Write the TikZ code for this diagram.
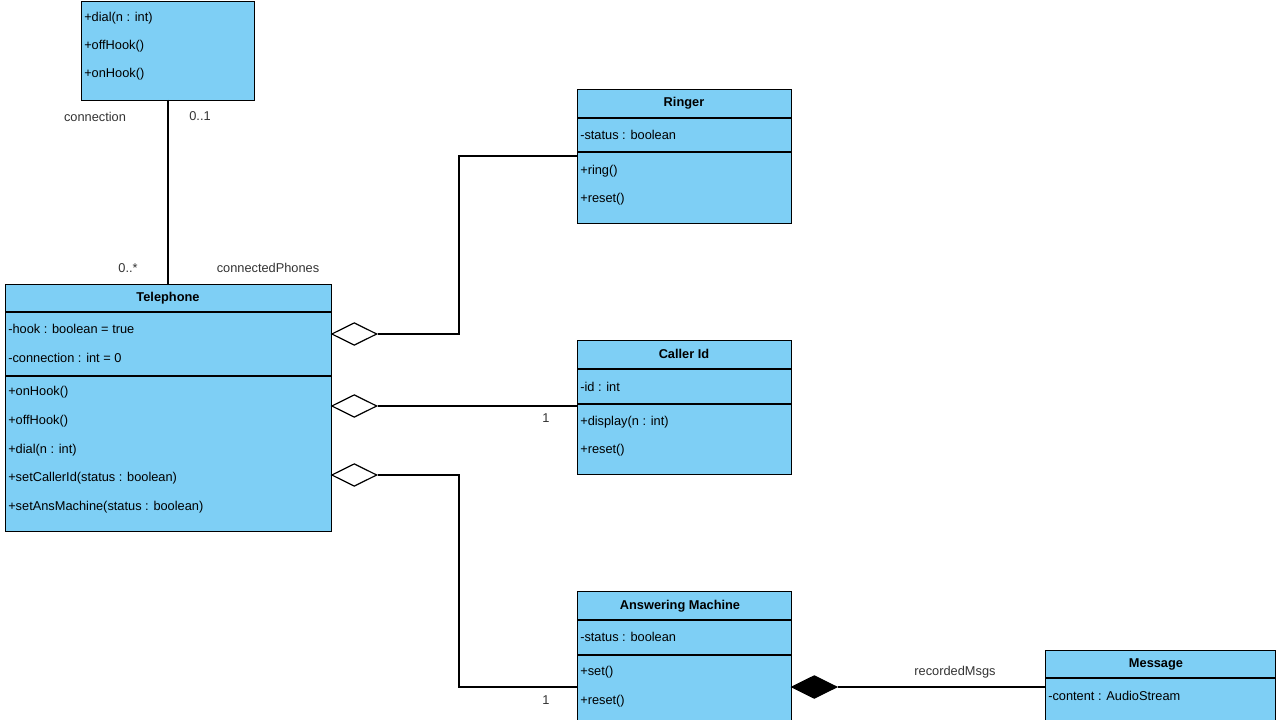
\documentclass[tikz,border=0pt]{standalone}
\usepackage{fontspec}
\setmainfont{Liberation Sans}
\usetikzlibrary{shapes.geometric}
\definecolor{cls}{HTML}{7ECFF5}
\begin{document}
\begin{tikzpicture}[x=0.75pt,y=-0.75pt,
  box/.style={draw=black,fill=cls,line width=0.9pt},
  sep/.style={draw=black,line width=0.9pt},
  mem/.style={anchor=west,inner sep=0pt,font=\fontsize{9.6pt}{11pt}\selectfont},
  ttl/.style={anchor=center,inner sep=0pt,font=\fontsize{9.6pt}{11pt}\selectfont\bfseries},
  lbl/.style={inner sep=0pt,text=black!80,font=\fontsize{9.6pt}{11pt}\selectfont},
  conn/.style={draw=black,line width=0.9pt},
  agg/.style={diamond,draw=black,fill=white,line width=0.9pt,minimum width=34pt,minimum height=17pt,inner sep=0pt,aspect=2},
  comp/.style={agg,fill=black}]
\useasboundingbox (0,0) rectangle (1280,720);
\clip (0,0) rectangle (1280,720);
% Top class
\node[box,minimum width=129.75pt,minimum height=74.25pt,inner sep=0pt,anchor=north west] (top) at (81,1) {};
\node[mem] at (84,18) {+dial(n : int)};
\node[mem] at (84,46) {+offHook()};
\node[mem] at (84,74) {+onHook()};
% Telephone
\node[box,minimum width=244.5pt,minimum height=185.25pt,inner sep=0pt,anchor=north west] (tel) at (5,284) {};
\draw[sep] (5,312) -- (331,312) (5,376) -- (331,376);
\node[ttl] at (168,298) {Telephone};
\node[mem] at (8,329) {-hook : boolean = true};
\node[mem] at (8,358) {-connection : int = 0};
\node[mem] at (8,392) {+onHook()};
\node[mem] at (8,421) {+offHook()};
\node[mem] at (8,450) {+dial(n : int)};
\node[mem] at (8,478) {+setCallerId(status : boolean)};
\node[mem] at (8,507) {+setAnsMachine(status : boolean)};
% Ringer
\node[box,minimum width=160.5pt,minimum height=100.5pt,inner sep=0pt,anchor=north west] (ring) at (577,89) {};
\draw[sep] (577,118) -- (791,118) (577,152) -- (791,152);
\node[ttl] at (684,103) {Ringer};
\node[mem] at (580,135) {-status : boolean};
\node[mem] at (580,171) {+ring()};
\node[mem] at (580,199) {+reset()};
% Caller Id
\node[box,minimum width=160.5pt,minimum height=100.5pt,inner sep=0pt,anchor=north west] (cid) at (577,340) {};
\draw[sep] (577,369) -- (791,369) (577,404) -- (791,404);
\node[ttl] at (684,354) {Caller Id};
\node[mem] at (580,387) {-id : int};
\node[mem] at (580,422) {+display(n : int)};
\node[mem] at (580,450) {+reset()};
% Answering Machine
\node[box,minimum width=160.5pt,minimum height=105pt,inner sep=0pt,anchor=north west] (am) at (577,591) {};
\draw[sep] (577,620) -- (791,620) (577,655) -- (791,655);
\node[ttl] at (680,606) {Answering Machine};
\node[mem] at (580,637) {-status : boolean};
\node[mem] at (580,672) {+set()};
\node[mem] at (580,701) {+reset()};
% Message
\node[box,minimum width=172.5pt,minimum height=60pt,inner sep=0pt,anchor=north west] (msg) at (1045,650) {};
\draw[sep] (1045,678) -- (1275,678);
\node[ttl] at (1156,664) {Message};
\node[mem] at (1048,696) {-content : AudioStream};
% connectors
\coordinate (topb) at (168,100);
\coordinate (telt) at (168,284);
\draw[conn] (topb) -- (telt);
\node[lbl] at (95,117) {connection};
\node[lbl] at (200,116) {0..1};
\node[lbl] at (128,268) {0..*};
\node[lbl] at (268,268) {connectedPhones};
% Ringer aggregation
\node[agg,anchor=west] (d1) at (331,334) {};
\coordinate (r1) at (577,156);
\draw[conn] (d1.east) -| (459,245) |- (r1);
% Caller Id aggregation
\node[agg,anchor=west] (d2) at (331,406) {};
\coordinate (c1) at (577,406);
\draw[conn] (d2.east) -- (c1);
\node[lbl] at (546,418) {1};
% Answering machine aggregation
\node[agg,anchor=west] (d3) at (331,475) {};
\coordinate (a1) at (577,687);
\draw[conn] (d3.east) -| (459,580) |- (a1);
\node[lbl] at (546,700) {1};
% composition
\node[comp,anchor=west] (d4) at (791,687) {};
\coordinate (m1) at (1045,687);
\draw[conn] (d4.east) -- (m1);
\node[lbl] at (955,672) {recordedMsgs};
\end{tikzpicture}
\end{document}
